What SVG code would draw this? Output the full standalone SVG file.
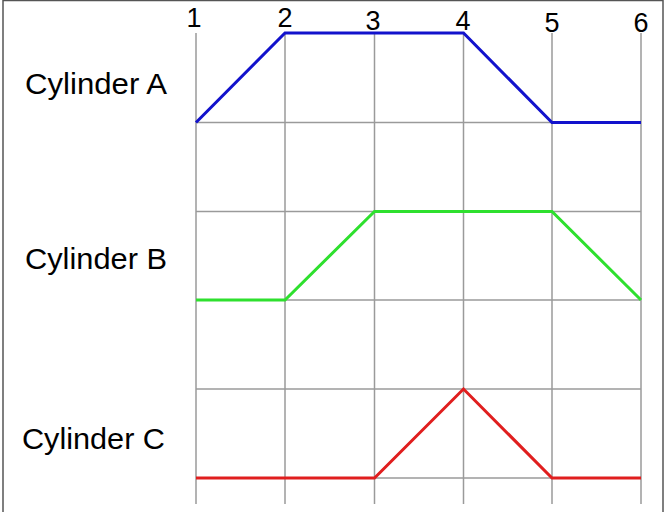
<svg xmlns="http://www.w3.org/2000/svg" width="668" height="512" viewBox="0 0 668 512">
<style>
.grid{stroke:#9a9a9a;stroke-width:1.5;fill:none}
.lbl{font-family:"Liberation Sans",Arial,sans-serif;font-size:29px;fill:#000}
.num{font-family:"Liberation Sans",Arial,sans-serif;font-size:27px;fill:#000;text-anchor:middle}
.sig{fill:none;stroke-width:3;stroke-linejoin:miter}
</style>
<rect x="0" y="0" width="668" height="512" fill="#ffffff"/>
<rect x="3" y="0.5" width="660" height="520" fill="none" stroke="#555" stroke-width="1.5"/>
<g id="grid">
<line class="grid" x1="196" y1="33" x2="196" y2="504"/>
<line class="grid" x1="285" y1="33" x2="285" y2="504"/>
<line class="grid" x1="374.5" y1="33" x2="374.5" y2="504"/>
<line class="grid" x1="463.5" y1="33" x2="463.5" y2="504"/>
<line class="grid" x1="552" y1="33" x2="552" y2="504"/>
<line class="grid" x1="641" y1="33" x2="641" y2="504"/>
<line class="grid" x1="196" y1="122.5" x2="641" y2="122.5"/>
<line class="grid" x1="196" y1="211.5" x2="641" y2="211.5"/>
<line class="grid" x1="196" y1="300" x2="641" y2="300"/>
<line class="grid" x1="196" y1="389" x2="641" y2="389"/>
<line class="grid" x1="196" y1="478" x2="641" y2="478"/>
</g>
<g id="step-numbers">
<text class="num" x="194" y="27">1</text>
<text class="num" x="285" y="27">2</text>
<text class="num" x="373" y="30">3</text>
<text class="num" x="463" y="30">4</text>
<text class="num" x="552" y="32">5</text>
<text class="num" x="641" y="32">6</text>
</g>
<g id="cylinder-a">
<text class="lbl" x="25" y="94" textLength="142" lengthAdjust="spacingAndGlyphs">Cylinder A</text>
<polyline class="sig" stroke="#1212cc" points="196,122.5 285,33 463.5,33 552,122.5 641,122.5"/>
</g>
<g id="cylinder-b">
<text class="lbl" x="25" y="269" textLength="142" lengthAdjust="spacingAndGlyphs">Cylinder B</text>
<polyline class="sig" stroke="#2ee02e" points="196,300 285,300 374.5,211.5 552,211.5 641,300"/>
</g>
<g id="cylinder-c">
<text class="lbl" x="22" y="449" textLength="143" lengthAdjust="spacingAndGlyphs">Cylinder C</text>
<polyline class="sig" stroke="#e01e1e" points="196,478 374.5,478 463.5,389 552,478 641,478"/>
</g>
</svg>
